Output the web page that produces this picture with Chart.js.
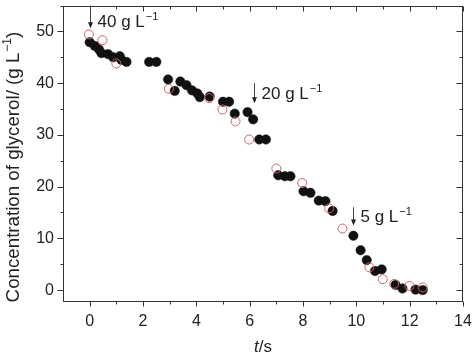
<!DOCTYPE html>
<html>
<head>
<meta charset="utf-8">
<script src="https://cdn.jsdelivr.net/npm/chart.js@4/dist/chart.umd.min.js"></script>
<style>
  html, body { margin: 0; padding: 0; background: #fff; }
</style>
</head>
<body>
<canvas id="chartCanvas" width="474" height="356"></canvas>
<script>
// filled black circles
const filledT = [0.0, 0.19, 0.35, 0.44, 0.69, 0.88, 1.13, 1.19, 1.38, 2.23, 2.5, 2.94, 3.19, 3.4, 3.63, 3.84, 4.04, 4.13, 4.5,
  5.0, 5.23, 5.44, 5.92, 6.13, 6.36, 6.61, 7.07, 7.32, 7.53, 8.02, 8.28, 8.59, 8.84, 9.11, 9.89, 10.16, 10.39, 10.7, 10.95,
  11.47, 11.73, 12.22, 12.49];
const filledC = [47.9, 47.2, 46.5, 45.8, 45.6, 45.0, 45.2, 44.5, 44.1, 44.1, 44.1, 40.7, 38.5, 40.3, 39.6, 38.6, 38.0, 37.3, 37.4,
  36.4, 36.4, 34.1, 34.4, 33.0, 29.1, 29.1, 22.2, 22.0, 22.0, 19.1, 18.8, 17.3, 17.2, 15.3, 10.5, 7.7, 5.8, 3.7, 4.0,
  1.0, 0.3, 0.1, 0.0];

// open red circles
const openT = [-0.03, 0.48, 1.0, 2.97, 4.48, 4.98, 5.47, 5.98, 7.0, 7.97, 8.98, 9.48, 10.49, 10.99, 11.42, 11.99, 12.49];
const openC = [49.4, 48.3, 43.8, 38.9, 37.1, 34.9, 32.6, 29.1, 23.5, 20.7, 15.8, 11.9, 4.4, 2.1, 1.2, 0.8, 0.5];

const xTicks = [0, 2, 4, 6, 8, 10, 12, 14];
const yTicks = [0, 10, 20, 30, 40, 50];

// feed arrows: time, arrow top, arrow tip (concentration), label
const noteT = [0.0, 6.16, 9.86];
const noteFrom = [55, 40.0, 16.0];
const noteTo = [50.6, 36.1, 12.5];
const noteText = ['40 g L', '20 g L', '5 g L'];

const FONT = '"Liberation Sans", Arial, sans-serif';

function pts(xs, ys) {
  return xs.map((v, i) => ({ x: v, y: ys[i] }));
}

function superText(ctx, x, y, base, sup, size) {
  ctx.font = size + 'px ' + FONT;
  ctx.fillText(base, x, y);
  const w = ctx.measureText(base).width;
  ctx.font = Math.round(size * 0.62) + 'px ' + FONT;
  ctx.fillText(sup, x + w + 1, y - size * 0.42);
  return w + 1 + ctx.measureText(sup).width;
}

const decor = {
  id: 'decor',
  afterDraw(chart) {
    const { ctx, chartArea: a, scales: { x, y } } = chart;
    ctx.save();
    ctx.strokeStyle = '#333';
    ctx.lineWidth = 1;
    const line = (x1, y1, x2, y2) => {
      ctx.beginPath(); ctx.moveTo(x1, y1); ctx.lineTo(x2, y2); ctx.stroke();
    };
    const L = Math.round(a.left) + 0.5, R = Math.round(a.right) - 0.5;
    const T = Math.round(a.top) + 0.5, B = Math.round(a.bottom) - 0.5;
    ctx.strokeRect(L, T, R - L, B - T);

    for (let v = 0; v <= 14; v++) {
      const px = Math.round(x.getPixelForValue(v)) + 0.5;
      const len = v % 2 === 0 ? 5 : 3;
      line(px, B, px, B + len);
      line(px, T, px, T + len);
    }
    for (let v = 0; v <= 55; v += 5) {
      const py = Math.round(y.getPixelForValue(v)) + 0.5;
      const len = v % 10 === 0 ? 6 : 3;
      line(L, py, L - len, py);
      line(R, py, R - len, py);
    }

    // arrows and labels
    ctx.fillStyle = '#222';
    ctx.strokeStyle = '#444';
    noteT.forEach((t, i) => {
      const px = Math.round(x.getPixelForValue(t)) + 0.5;
      const y1 = y.getPixelForValue(noteFrom[i]);
      const y2 = y.getPixelForValue(noteTo[i]);
      line(px, Math.max(y1, a.top), px, y2 - 5);
      ctx.beginPath();
      ctx.moveTo(px - 2.5, y2 - 6);
      ctx.lineTo(px + 2.5, y2 - 6);
      ctx.lineTo(px, y2);
      ctx.closePath();
      ctx.fill();
      ctx.textAlign = 'left';
      ctx.textBaseline = 'alphabetic';
      const ty = i === 0 ? y2 - 1 : (y1 + y2) / 2 + 6;
      superText(ctx, px + 7, ty, noteText[i], '\u22121', 17);
    });

    // y title, fitted to the span it has in the figure
    ctx.save();
    ctx.translate(19, 167);
    ctx.rotate(-Math.PI / 2);
    ctx.textAlign = 'left';
    const base = 'Concentration of glycerol/ (g L';
    ctx.font = '17px ' + FONT;
    const bw = ctx.measureText(base).width;
    ctx.font = '11px ' + FONT;
    const sw = ctx.measureText('\u22121').width;
    ctx.font = '17px ' + FONT;
    const cw = ctx.measureText(')').width;
    const fs = 17 * 271 / (bw + 1 + sw + cw);
    ctx.font = fs + 'px ' + FONT;
    const total = ctx.measureText(base).width + 1 + sw * fs / 17 + ctx.measureText(')').width;
    const sx = -total / 2;
    const wsup = superText(ctx, sx, 0, base, '\u22121', fs);
    ctx.font = fs + 'px ' + FONT;
    ctx.fillText(')', sx + wsup, 0);
    ctx.restore();

    // x title
    ctx.font = 'italic 17px ' + FONT;
    const tw = ctx.measureText('t').width;
    ctx.font = '17px ' + FONT;
    const rw = ctx.measureText('/s').width;
    const cx = (a.left + a.right) / 2 - (tw + rw) / 2;
    ctx.textAlign = 'left';
    ctx.font = 'italic 17px ' + FONT;
    ctx.fillText('t', cx, 352);
    ctx.font = '17px ' + FONT;
    ctx.fillText('/s', cx + tw, 352);

    ctx.restore();
  }
};

new Chart(document.getElementById('chartCanvas'), {
  type: 'scatter',
  data: {
    datasets: [
      {
        label: 'open',
        data: pts(openT, openC),
        pointRadius: 4.5,
        pointBorderWidth: 1,
        pointBorderColor: 'rgb(214,96,100)',
        pointBackgroundColor: 'rgba(255,255,255,0)',
        showLine: false
      },
      {
        label: 'filled',
        data: pts(filledT, filledC),
        pointRadius: 4.7,
        pointBorderWidth: 0.5,
        pointBorderColor: '#111',
        pointBackgroundColor: '#111',
        showLine: false
      }
    ]
  },
  options: {
    responsive: false,
    animation: false,
    events: [],
    layout: { padding: { top: 5, right: 11, left: 0, bottom: 0 } },
    plugins: { legend: { display: false }, tooltip: { enabled: false } },
    scales: {
      x: {
        type: 'linear',
        min: -1,
        max: 14,
        grid: { display: false, drawTicks: false },
        border: { display: false },
        afterBuildTicks: (s) => { s.ticks = xTicks.map(v => ({ value: v })); },
        afterFit: (s) => { s.height = 54; s.paddingLeft = 0; s.paddingRight = 0; },
        ticks: { padding: 10, color: '#222', font: { family: FONT, size: 16 }, maxRotation: 0 }
      },
      y: {
        type: 'linear',
        min: -2.3,
        max: 55,
        grid: { display: false, drawTicks: false },
        border: { display: false },
        afterBuildTicks: (s) => { s.ticks = yTicks.map(v => ({ value: v })); },
        afterFit: (s) => { s.width = 63; s.paddingTop = 0; s.paddingBottom = 0; },
        ticks: { padding: 9, color: '#222', font: { family: FONT, size: 16 } }
      }
    }
  },
  plugins: [decor]
});
</script>
</body>
</html>
